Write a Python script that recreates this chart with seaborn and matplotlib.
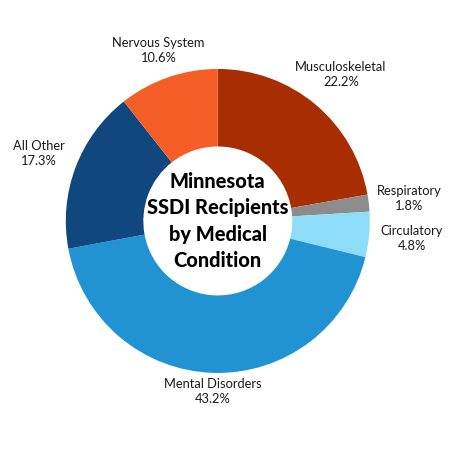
import matplotlib
matplotlib.use("Agg")
import matplotlib.pyplot as plt
import numpy as np
import seaborn as sns

# Minnesota SSDI recipients by medical condition (percent), clockwise from top
conditions = ["Musculoskeletal", "Respiratory", "Circulatory",
              "Mental Disorders", "All Other", "Nervous System"]
shares = [22.2, 1.8, 4.8, 43.2, 17.3, 10.6]
colors = ["#A82D00", "#8C8C8C", "#8EDDF8", "#2193D3", "#0F477E", "#F55E27"]

sns.set_theme(style="white")
plt.rcParams["font.family"] = ["Lato", "DejaVu Sans"]

fig = plt.figure(figsize=(4.5, 4.5), dpi=100)
# axes centred on the donut, radius ~152 px
ax = fig.add_axes([-0.016, 0.009, 1.0, 1.0])

wedges, _ = ax.pie(shares, colors=colors, startangle=90, counterclock=False,
                   radius=1.0, wedgeprops=dict(width=0.51, linewidth=0))

lim = 450 / 2 / 152
ax.set_xlim(-lim, lim)
ax.set_ylim(-lim, lim)
ax.set_aspect("equal")
ax.axis("off")

# label placement distance (in radii) for each wedge
label_dist = [1.26, 1.27, 1.28, 1.12, 1.26, 1.19]
for w, name, val, d in zip(wedges, conditions, shares, label_dist):
    ang = np.deg2rad((w.theta1 + w.theta2) / 2)
    ax.text(d * np.cos(ang), d * np.sin(ang), f"{name}\n{val:.1f}%",
            ha="center", va="center", fontsize=9.3, color="#1a1a1a",
            linespacing=1.3)

ax.text(0, 0, "Minnesota\nSSDI Recipients\nby Medical\nCondition",
        ha="center", va="center", fontsize=14.4, fontweight="black",
        color="black", linespacing=1.45)

fig.savefig("out.png", dpi=100, facecolor="white")
